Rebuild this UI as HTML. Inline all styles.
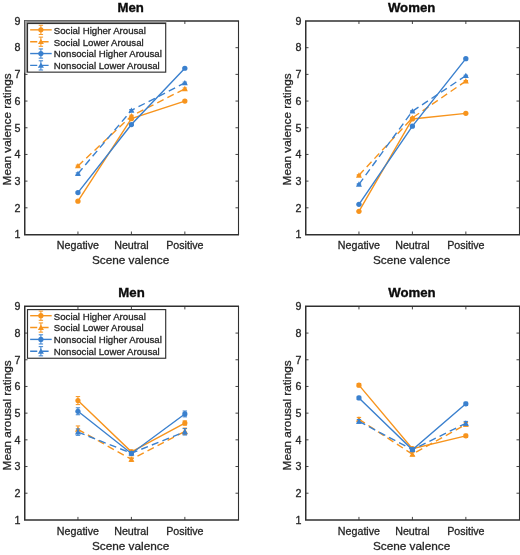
<!DOCTYPE html>
<html lang="en">
<head>
<meta charset="utf-8">
<title>Mean valence and arousal ratings</title>
<style>
html,body{margin:0;padding:0;background:#fff;}
svg{display:block;}
text{font-family:"Liberation Sans",Arial,Helvetica,sans-serif;fill:#262626;stroke:#262626;stroke-width:0.3px;}
</style>
</head>
<body>
<svg width="520" height="555" viewBox="0 0 520 555">
<rect width="520" height="555" fill="#fff"/>
<g>
<polyline points="77.95,201.14 131.4,118.68 184.85,101.06" fill="none" stroke="#F7941D" stroke-width="1.4"/>
<path d="M77.95 200.34V201.94M75.75 200.34H80.15M75.75 201.94H80.15" stroke="#F7941D" stroke-width="1" fill="none"/>
<circle cx="77.95" cy="201.14" r="2.6" fill="#F7941D"/>
<path d="M131.4 117.88V119.48M129.2 117.88H133.6M129.2 119.48H133.6" stroke="#F7941D" stroke-width="1" fill="none"/>
<circle cx="131.4" cy="118.68" r="2.6" fill="#F7941D"/>
<path d="M184.85 100.26V101.86M182.65 100.26H187.05M182.65 101.86H187.05" stroke="#F7941D" stroke-width="1" fill="none"/>
<circle cx="184.85" cy="101.06" r="2.6" fill="#F7941D"/>
<polyline points="77.95,165.91 131.4,116.01 184.85,88.79" fill="none" stroke="#F7941D" stroke-width="1.4" stroke-dasharray="7.1 4.25"/>
<path d="M77.95 165.11V166.71M75.75 165.11H80.15M75.75 166.71H80.15" stroke="#F7941D" stroke-width="1" fill="none"/>
<polygon points="77.95,162.91 74.95,168.31 80.95,168.31" fill="#F7941D"/>
<path d="M131.4 115.21V116.81M129.2 115.21H133.6M129.2 116.81H133.6" stroke="#F7941D" stroke-width="1" fill="none"/>
<polygon points="131.4,113.01 128.4,118.41 134.4,118.41" fill="#F7941D"/>
<path d="M184.85 87.99V89.59M182.65 87.99H187.05M182.65 89.59H187.05" stroke="#F7941D" stroke-width="1" fill="none"/>
<polygon points="184.85,85.79 181.85,91.19 187.85,91.19" fill="#F7941D"/>
<polyline points="77.95,192.6 131.4,124.55 184.85,68.24" fill="none" stroke="#3A80CE" stroke-width="1.4"/>
<path d="M77.95 191.8V193.4M75.75 191.8H80.15M75.75 193.4H80.15" stroke="#3A80CE" stroke-width="1" fill="none"/>
<circle cx="77.95" cy="192.6" r="2.6" fill="#3A80CE"/>
<path d="M131.4 123.75V125.35M129.2 123.75H133.6M129.2 125.35H133.6" stroke="#3A80CE" stroke-width="1" fill="none"/>
<circle cx="131.4" cy="124.55" r="2.6" fill="#3A80CE"/>
<path d="M184.85 67.44V69.04M182.65 67.44H187.05M182.65 69.04H187.05" stroke="#3A80CE" stroke-width="1" fill="none"/>
<circle cx="184.85" cy="68.24" r="2.6" fill="#3A80CE"/>
<polyline points="77.95,173.65 131.4,110.4 184.85,82.92" fill="none" stroke="#3A80CE" stroke-width="1.4" stroke-dasharray="7.1 4.25"/>
<path d="M77.95 172.85V174.45M75.75 172.85H80.15M75.75 174.45H80.15" stroke="#3A80CE" stroke-width="1" fill="none"/>
<polygon points="77.95,170.65 74.95,176.05 80.95,176.05" fill="#3A80CE"/>
<path d="M131.4 109.6V111.2M129.2 109.6H133.6M129.2 111.2H133.6" stroke="#3A80CE" stroke-width="1" fill="none"/>
<polygon points="131.4,107.4 128.4,112.8 134.4,112.8" fill="#3A80CE"/>
<path d="M184.85 82.11V83.72M182.65 82.11H187.05M182.65 83.72H187.05" stroke="#3A80CE" stroke-width="1" fill="none"/>
<polygon points="184.85,79.92 181.85,85.32 187.85,85.32" fill="#3A80CE"/>
<path d="M24.5 207.81h3M238.5 207.81h-3M24.5 181.12h3M238.5 181.12h-3M24.5 154.44h3M238.5 154.44h-3M24.5 127.75h3M238.5 127.75h-3M24.5 101.06h3M238.5 101.06h-3M24.5 74.38h3M238.5 74.38h-3M24.5 47.69h3M238.5 47.69h-3M77.95 234.5v-3M77.95 21v3M131.4 234.5v-3M131.4 21v3M184.85 234.5v-3M184.85 21v3" stroke="#303030" stroke-width="0.9" fill="none"/>
<path d="M24 21H239.05M24 234.75H239.05" stroke="#303030" stroke-width="1.5" fill="none"/>
<path d="M24.75 21V234.75" stroke="#303030" stroke-width="1.5" fill="none"/>
<path d="M238.5 21V234.75" stroke="#303030" stroke-width="1.1" fill="none"/>
<rect x="24" y="20" width="142.3" height="1" fill="#666"/>
<rect x="24" y="21" width="142.3" height="2" fill="#8c8c8c"/>
<rect x="24" y="20" width="1" height="52.75" fill="#555"/>
<rect x="25" y="21" width="2" height="51.75" fill="#a0a0a0"/>
<rect x="27.5" y="23.5" width="138.2" height="48.65" fill="#fff" stroke="#303030" stroke-width="1.15"/>
<path d="M30.15 29.85H51.7" stroke="#F7941D" stroke-width="1.4" fill="none"/>
<path d="M40.9 25.25V34.45M38.7 25.25H43.1M38.7 34.45H43.1" stroke="#F7941D" stroke-width="1" fill="none"/>
<circle cx="40.9" cy="29.85" r="2.6" fill="#F7941D"/>
<text x="53.8" y="33.7" font-size="9.65">Social Higher Arousal</text>
<path d="M30.15 41.7H51.7" stroke="#F7941D" stroke-width="1.4" stroke-dasharray="7.1 4.25" fill="none"/>
<path d="M40.9 37.1V46.3M38.7 37.1H43.1M38.7 46.3H43.1" stroke="#F7941D" stroke-width="1" fill="none"/>
<polygon points="40.9,38.7 37.9,44.1 43.9,44.1" fill="#F7941D"/>
<text x="53.8" y="45.55" font-size="9.65">Social Lower Arousal</text>
<path d="M30.15 53.55H51.7" stroke="#3A80CE" stroke-width="1.4" fill="none"/>
<path d="M40.9 48.95V58.15M38.7 48.95H43.1M38.7 58.15H43.1" stroke="#3A80CE" stroke-width="1" fill="none"/>
<circle cx="40.9" cy="53.55" r="2.6" fill="#3A80CE"/>
<text x="53.8" y="57.4" font-size="9.65">Nonsocial Higher Arousal</text>
<path d="M30.15 65.4H51.7" stroke="#3A80CE" stroke-width="1.4" stroke-dasharray="7.1 4.25" fill="none"/>
<path d="M40.9 60.8V70M38.7 60.8H43.1M38.7 70H43.1" stroke="#3A80CE" stroke-width="1" fill="none"/>
<polygon points="40.9,62.4 37.9,67.8 43.9,67.8" fill="#3A80CE"/>
<text x="53.8" y="69.25" font-size="9.65">Nonsocial Lower Arousal</text>
<text x="20.5" y="238.25" font-size="10.7" text-anchor="end">1</text>
<text x="20.5" y="211.56" font-size="10.7" text-anchor="end">2</text>
<text x="20.5" y="184.88" font-size="10.7" text-anchor="end">3</text>
<text x="20.5" y="158.19" font-size="10.7" text-anchor="end">4</text>
<text x="20.5" y="131.5" font-size="10.7" text-anchor="end">5</text>
<text x="20.5" y="104.81" font-size="10.7" text-anchor="end">6</text>
<text x="20.5" y="78.12" font-size="10.7" text-anchor="end">7</text>
<text x="20.5" y="51.44" font-size="10.7" text-anchor="end">8</text>
<text x="20.5" y="24.75" font-size="10.7" text-anchor="end">9</text>
<text x="77.95" y="248.8" font-size="10.7" text-anchor="middle">Negative</text>
<text x="131.4" y="248.8" font-size="10.7" text-anchor="middle">Neutral</text>
<text x="184.85" y="248.8" font-size="10.7" text-anchor="middle">Positive</text>
<text x="130.6" y="264" font-size="11.8" text-anchor="middle">Scene valence</text>
<text transform="translate(10.7 129.35) rotate(-90)" font-size="11.8" text-anchor="middle">Mean valence ratings</text>
<text x="130.7" y="11.5" font-size="13.2" font-weight="bold" style="fill:#0c0c0c;stroke:#0c0c0c;stroke-width:0.35px" text-anchor="middle">Men</text>
</g>
<g>
<polyline points="358.95,211.28 412.4,118.94 465.85,113.34" fill="none" stroke="#F7941D" stroke-width="1.4"/>
<path d="M358.95 210.75V211.82M356.75 210.75H361.15M356.75 211.82H361.15" stroke="#F7941D" stroke-width="1" fill="none"/>
<circle cx="358.95" cy="211.28" r="2.6" fill="#F7941D"/>
<path d="M412.4 118.41V119.48M410.2 118.41H414.6M410.2 119.48H414.6" stroke="#F7941D" stroke-width="1" fill="none"/>
<circle cx="412.4" cy="118.94" r="2.6" fill="#F7941D"/>
<path d="M465.85 112.81V113.87M463.65 112.81H468.05M463.65 113.87H468.05" stroke="#F7941D" stroke-width="1" fill="none"/>
<circle cx="465.85" cy="113.34" r="2.6" fill="#F7941D"/>
<polyline points="358.95,175.25 412.4,117.88 465.85,81.05" fill="none" stroke="#F7941D" stroke-width="1.4" stroke-dasharray="7.1 4.25"/>
<path d="M358.95 174.72V175.79M356.75 174.72H361.15M356.75 175.79H361.15" stroke="#F7941D" stroke-width="1" fill="none"/>
<polygon points="358.95,172.25 355.95,177.65 361.95,177.65" fill="#F7941D"/>
<path d="M412.4 117.34V118.41M410.2 117.34H414.6M410.2 118.41H414.6" stroke="#F7941D" stroke-width="1" fill="none"/>
<polygon points="412.4,114.88 409.4,120.28 415.4,120.28" fill="#F7941D"/>
<path d="M465.85 80.51V81.58M463.65 80.51H468.05M463.65 81.58H468.05" stroke="#F7941D" stroke-width="1" fill="none"/>
<polygon points="465.85,78.05 462.85,83.45 468.85,83.45" fill="#F7941D"/>
<polyline points="358.95,204.34 412.4,126.15 465.85,58.63" fill="none" stroke="#3A80CE" stroke-width="1.4"/>
<path d="M358.95 203.81V204.88M356.75 203.81H361.15M356.75 204.88H361.15" stroke="#3A80CE" stroke-width="1" fill="none"/>
<circle cx="358.95" cy="204.34" r="2.6" fill="#3A80CE"/>
<path d="M412.4 125.62V126.68M410.2 125.62H414.6M410.2 126.68H414.6" stroke="#3A80CE" stroke-width="1" fill="none"/>
<circle cx="412.4" cy="126.15" r="2.6" fill="#3A80CE"/>
<path d="M465.85 58.1V59.16M463.65 58.1H468.05M463.65 59.16H468.05" stroke="#3A80CE" stroke-width="1" fill="none"/>
<circle cx="465.85" cy="58.63" r="2.6" fill="#3A80CE"/>
<polyline points="358.95,184.33 412.4,111.2 465.85,75.71" fill="none" stroke="#3A80CE" stroke-width="1.4" stroke-dasharray="7.1 4.25"/>
<path d="M358.95 183.79V184.86M356.75 183.79H361.15M356.75 184.86H361.15" stroke="#3A80CE" stroke-width="1" fill="none"/>
<polygon points="358.95,181.33 355.95,186.73 361.95,186.73" fill="#3A80CE"/>
<path d="M412.4 110.67V111.74M410.2 110.67H414.6M410.2 111.74H414.6" stroke="#3A80CE" stroke-width="1" fill="none"/>
<polygon points="412.4,108.2 409.4,113.6 415.4,113.6" fill="#3A80CE"/>
<path d="M465.85 75.18V76.24M463.65 75.18H468.05M463.65 76.24H468.05" stroke="#3A80CE" stroke-width="1" fill="none"/>
<polygon points="465.85,72.71 462.85,78.11 468.85,78.11" fill="#3A80CE"/>
<path d="M305.5 207.81h3M519.5 207.81h-3M305.5 181.12h3M519.5 181.12h-3M305.5 154.44h3M519.5 154.44h-3M305.5 127.75h3M519.5 127.75h-3M305.5 101.06h3M519.5 101.06h-3M305.5 74.38h3M519.5 74.38h-3M305.5 47.69h3M519.5 47.69h-3M358.95 234.5v-3M358.95 21v3M412.4 234.5v-3M412.4 21v3M465.85 234.5v-3M465.85 21v3" stroke="#303030" stroke-width="0.9" fill="none"/>
<path d="M305 21H520.05M305 234.75H520.05" stroke="#303030" stroke-width="1.5" fill="none"/>
<path d="M305.75 21V234.75" stroke="#303030" stroke-width="1.5" fill="none"/>
<path d="M519.5 21V234.75" stroke="#303030" stroke-width="1.1" fill="none"/>
<text x="301.5" y="238.25" font-size="10.7" text-anchor="end">1</text>
<text x="301.5" y="211.56" font-size="10.7" text-anchor="end">2</text>
<text x="301.5" y="184.88" font-size="10.7" text-anchor="end">3</text>
<text x="301.5" y="158.19" font-size="10.7" text-anchor="end">4</text>
<text x="301.5" y="131.5" font-size="10.7" text-anchor="end">5</text>
<text x="301.5" y="104.81" font-size="10.7" text-anchor="end">6</text>
<text x="301.5" y="78.12" font-size="10.7" text-anchor="end">7</text>
<text x="301.5" y="51.44" font-size="10.7" text-anchor="end">8</text>
<text x="301.5" y="24.75" font-size="10.7" text-anchor="end">9</text>
<text x="358.95" y="248.8" font-size="10.7" text-anchor="middle">Negative</text>
<text x="412.4" y="248.8" font-size="10.7" text-anchor="middle">Neutral</text>
<text x="465.85" y="248.8" font-size="10.7" text-anchor="middle">Positive</text>
<text x="411.6" y="264" font-size="11.8" text-anchor="middle">Scene valence</text>
<text transform="translate(291.3 129.35) rotate(-90)" font-size="11.8" text-anchor="middle">Mean valence ratings</text>
<text x="411.6" y="11.9" font-size="13.2" font-weight="bold" style="fill:#0c0c0c;stroke:#0c0c0c;stroke-width:0.35px" text-anchor="middle">Women</text>
</g>
<g>
<polyline points="77.95,400.61 131.4,451.85 184.85,423.02" fill="none" stroke="#F7941D" stroke-width="1.4"/>
<path d="M77.95 396.6V404.61M75.75 396.6H80.15M75.75 404.61H80.15" stroke="#F7941D" stroke-width="1" fill="none"/>
<circle cx="77.95" cy="400.61" r="2.6" fill="#F7941D"/>
<path d="M131.4 449.98V453.71M129.2 449.98H133.6M129.2 453.71H133.6" stroke="#F7941D" stroke-width="1" fill="none"/>
<circle cx="131.4" cy="451.85" r="2.6" fill="#F7941D"/>
<path d="M184.85 420.89V425.16M182.65 420.89H187.05M182.65 425.16H187.05" stroke="#F7941D" stroke-width="1" fill="none"/>
<circle cx="184.85" cy="423.02" r="2.6" fill="#F7941D"/>
<polyline points="77.95,429.43 131.4,459.32 184.85,431.3" fill="none" stroke="#F7941D" stroke-width="1.4" stroke-dasharray="7.1 4.25"/>
<path d="M77.95 425.96V432.9M75.75 425.96H80.15M75.75 432.9H80.15" stroke="#F7941D" stroke-width="1" fill="none"/>
<polygon points="77.95,426.43 74.95,431.83 80.95,431.83" fill="#F7941D"/>
<path d="M131.4 457.18V461.45M129.2 457.18H133.6M129.2 461.45H133.6" stroke="#F7941D" stroke-width="1" fill="none"/>
<polygon points="131.4,456.32 128.4,461.72 134.4,461.72" fill="#F7941D"/>
<path d="M184.85 428.09V434.5M182.65 428.09H187.05M182.65 434.5H187.05" stroke="#F7941D" stroke-width="1" fill="none"/>
<polygon points="184.85,428.3 181.85,433.7 187.85,433.7" fill="#F7941D"/>
<polyline points="77.95,411.28 131.4,453.45 184.85,413.95" fill="none" stroke="#3A80CE" stroke-width="1.4"/>
<path d="M77.95 407.81V414.75M75.75 407.81H80.15M75.75 414.75H80.15" stroke="#3A80CE" stroke-width="1" fill="none"/>
<circle cx="77.95" cy="411.28" r="2.6" fill="#3A80CE"/>
<path d="M131.4 451.85V455.05M129.2 451.85H133.6M129.2 455.05H133.6" stroke="#3A80CE" stroke-width="1" fill="none"/>
<circle cx="131.4" cy="453.45" r="2.6" fill="#3A80CE"/>
<path d="M184.85 411.01V416.89M182.65 411.01H187.05M182.65 416.89H187.05" stroke="#3A80CE" stroke-width="1" fill="none"/>
<circle cx="184.85" cy="413.95" r="2.6" fill="#3A80CE"/>
<polyline points="77.95,432.1 131.4,453.18 184.85,431.83" fill="none" stroke="#3A80CE" stroke-width="1.4" stroke-dasharray="7.1 4.25"/>
<path d="M77.95 428.9V435.3M75.75 428.9H80.15M75.75 435.3H80.15" stroke="#3A80CE" stroke-width="1" fill="none"/>
<polygon points="77.95,429.1 74.95,434.5 80.95,434.5" fill="#3A80CE"/>
<path d="M131.4 451.58V454.78M129.2 451.58H133.6M129.2 454.78H133.6" stroke="#3A80CE" stroke-width="1" fill="none"/>
<polygon points="131.4,450.18 128.4,455.58 134.4,455.58" fill="#3A80CE"/>
<path d="M184.85 428.63V435.03M182.65 428.63H187.05M182.65 435.03H187.05" stroke="#3A80CE" stroke-width="1" fill="none"/>
<polygon points="184.85,428.83 181.85,434.23 187.85,434.23" fill="#3A80CE"/>
<path d="M24.5 493.21h3M238.5 493.21h-3M24.5 466.52h3M238.5 466.52h-3M24.5 439.84h3M238.5 439.84h-3M24.5 413.15h3M238.5 413.15h-3M24.5 386.46h3M238.5 386.46h-3M24.5 359.77h3M238.5 359.77h-3M24.5 333.09h3M238.5 333.09h-3M77.95 519.9v-3M77.95 306.4v3M131.4 519.9v-3M131.4 306.4v3M184.85 519.9v-3M184.85 306.4v3" stroke="#303030" stroke-width="0.9" fill="none"/>
<path d="M24 306.25H239.05M24 520H239.05" stroke="#303030" stroke-width="1.5" fill="none"/>
<path d="M24.75 306.25V520" stroke="#303030" stroke-width="1.5" fill="none"/>
<path d="M238.5 306.25V520" stroke="#303030" stroke-width="1.1" fill="none"/>
<rect x="27.5" y="309.6" width="138.2" height="48.65" fill="#fff" stroke="#303030" stroke-width="1.15"/>
<path d="M30.15 315.7H51.7" stroke="#F7941D" stroke-width="1.4" fill="none"/>
<path d="M40.9 311.1V320.3M38.7 311.1H43.1M38.7 320.3H43.1" stroke="#F7941D" stroke-width="1" fill="none"/>
<circle cx="40.9" cy="315.7" r="2.6" fill="#F7941D"/>
<text x="53.8" y="319.55" font-size="9.65">Social Higher Arousal</text>
<path d="M30.15 327.55H51.7" stroke="#F7941D" stroke-width="1.4" stroke-dasharray="7.1 4.25" fill="none"/>
<path d="M40.9 322.95V332.15M38.7 322.95H43.1M38.7 332.15H43.1" stroke="#F7941D" stroke-width="1" fill="none"/>
<polygon points="40.9,324.55 37.9,329.95 43.9,329.95" fill="#F7941D"/>
<text x="53.8" y="331.4" font-size="9.65">Social Lower Arousal</text>
<path d="M30.15 339.4H51.7" stroke="#3A80CE" stroke-width="1.4" fill="none"/>
<path d="M40.9 334.8V344M38.7 334.8H43.1M38.7 344H43.1" stroke="#3A80CE" stroke-width="1" fill="none"/>
<circle cx="40.9" cy="339.4" r="2.6" fill="#3A80CE"/>
<text x="53.8" y="343.25" font-size="9.65">Nonsocial Higher Arousal</text>
<path d="M30.15 351.25H51.7" stroke="#3A80CE" stroke-width="1.4" stroke-dasharray="7.1 4.25" fill="none"/>
<path d="M40.9 346.65V355.85M38.7 346.65H43.1M38.7 355.85H43.1" stroke="#3A80CE" stroke-width="1" fill="none"/>
<polygon points="40.9,348.25 37.9,353.65 43.9,353.65" fill="#3A80CE"/>
<text x="53.8" y="355.1" font-size="9.65">Nonsocial Lower Arousal</text>
<text x="20.5" y="523.65" font-size="10.7" text-anchor="end">1</text>
<text x="20.5" y="496.96" font-size="10.7" text-anchor="end">2</text>
<text x="20.5" y="470.27" font-size="10.7" text-anchor="end">3</text>
<text x="20.5" y="443.59" font-size="10.7" text-anchor="end">4</text>
<text x="20.5" y="416.9" font-size="10.7" text-anchor="end">5</text>
<text x="20.5" y="390.21" font-size="10.7" text-anchor="end">6</text>
<text x="20.5" y="363.52" font-size="10.7" text-anchor="end">7</text>
<text x="20.5" y="336.84" font-size="10.7" text-anchor="end">8</text>
<text x="20.5" y="310.15" font-size="10.7" text-anchor="end">9</text>
<text x="77.95" y="534.6" font-size="10.7" text-anchor="middle">Negative</text>
<text x="131.4" y="534.6" font-size="10.7" text-anchor="middle">Neutral</text>
<text x="184.85" y="534.6" font-size="10.7" text-anchor="middle">Positive</text>
<text x="130.6" y="549.8" font-size="11.8" text-anchor="middle">Scene valence</text>
<text transform="translate(10.7 415.35) rotate(-90)" font-size="11.8" text-anchor="middle">Mean arousal ratings</text>
<text x="131.5" y="297.3" font-size="13.2" font-weight="bold" style="fill:#0c0c0c;stroke:#0c0c0c;stroke-width:0.35px" text-anchor="middle">Men</text>
</g>
<g>
<polyline points="358.95,385.13 412.4,448.64 465.85,435.83" fill="none" stroke="#F7941D" stroke-width="1.4"/>
<path d="M358.95 383.53V386.73M356.75 383.53H361.15M356.75 386.73H361.15" stroke="#F7941D" stroke-width="1" fill="none"/>
<circle cx="358.95" cy="385.13" r="2.6" fill="#F7941D"/>
<path d="M412.4 447.31V449.98M410.2 447.31H414.6M410.2 449.98H414.6" stroke="#F7941D" stroke-width="1" fill="none"/>
<circle cx="412.4" cy="448.64" r="2.6" fill="#F7941D"/>
<path d="M465.85 434.23V437.44M463.65 434.23H468.05M463.65 437.44H468.05" stroke="#F7941D" stroke-width="1" fill="none"/>
<circle cx="465.85" cy="435.83" r="2.6" fill="#F7941D"/>
<polyline points="358.95,419.29 412.4,454.25 465.85,424.36" fill="none" stroke="#F7941D" stroke-width="1.4" stroke-dasharray="7.1 4.25"/>
<path d="M358.95 417.42V421.16M356.75 417.42H361.15M356.75 421.16H361.15" stroke="#F7941D" stroke-width="1" fill="none"/>
<polygon points="358.95,416.29 355.95,421.69 361.95,421.69" fill="#F7941D"/>
<path d="M412.4 452.65V455.85M410.2 452.65H414.6M410.2 455.85H414.6" stroke="#F7941D" stroke-width="1" fill="none"/>
<polygon points="412.4,451.25 409.4,456.65 415.4,456.65" fill="#F7941D"/>
<path d="M465.85 422.49V426.23M463.65 422.49H468.05M463.65 426.23H468.05" stroke="#F7941D" stroke-width="1" fill="none"/>
<polygon points="465.85,421.36 462.85,426.76 468.85,426.76" fill="#F7941D"/>
<polyline points="358.95,397.94 412.4,449.71 465.85,403.81" fill="none" stroke="#3A80CE" stroke-width="1.4"/>
<path d="M358.95 396.34V399.54M356.75 396.34H361.15M356.75 399.54H361.15" stroke="#3A80CE" stroke-width="1" fill="none"/>
<circle cx="358.95" cy="397.94" r="2.6" fill="#3A80CE"/>
<path d="M412.4 448.38V451.05M410.2 448.38H414.6M410.2 451.05H414.6" stroke="#3A80CE" stroke-width="1" fill="none"/>
<circle cx="412.4" cy="449.71" r="2.6" fill="#3A80CE"/>
<path d="M465.85 402.21V405.41M463.65 402.21H468.05M463.65 405.41H468.05" stroke="#3A80CE" stroke-width="1" fill="none"/>
<circle cx="465.85" cy="403.81" r="2.6" fill="#3A80CE"/>
<polyline points="358.95,421.42 412.4,449.71 465.85,423.29" fill="none" stroke="#3A80CE" stroke-width="1.4" stroke-dasharray="7.1 4.25"/>
<path d="M358.95 419.55V423.29M356.75 419.55H361.15M356.75 423.29H361.15" stroke="#3A80CE" stroke-width="1" fill="none"/>
<polygon points="358.95,418.42 355.95,423.82 361.95,423.82" fill="#3A80CE"/>
<path d="M412.4 448.38V451.05M410.2 448.38H414.6M410.2 451.05H414.6" stroke="#3A80CE" stroke-width="1" fill="none"/>
<polygon points="412.4,446.71 409.4,452.11 415.4,452.11" fill="#3A80CE"/>
<path d="M465.85 421.42V425.16M463.65 421.42H468.05M463.65 425.16H468.05" stroke="#3A80CE" stroke-width="1" fill="none"/>
<polygon points="465.85,420.29 462.85,425.69 468.85,425.69" fill="#3A80CE"/>
<path d="M305.5 493.21h3M519.5 493.21h-3M305.5 466.52h3M519.5 466.52h-3M305.5 439.84h3M519.5 439.84h-3M305.5 413.15h3M519.5 413.15h-3M305.5 386.46h3M519.5 386.46h-3M305.5 359.77h3M519.5 359.77h-3M305.5 333.09h3M519.5 333.09h-3M358.95 519.9v-3M358.95 306.4v3M412.4 519.9v-3M412.4 306.4v3M465.85 519.9v-3M465.85 306.4v3" stroke="#303030" stroke-width="0.9" fill="none"/>
<path d="M305 306.25H520.05M305 520H520.05" stroke="#303030" stroke-width="1.5" fill="none"/>
<path d="M305.75 306.25V520" stroke="#303030" stroke-width="1.5" fill="none"/>
<path d="M519.5 306.25V520" stroke="#303030" stroke-width="1.1" fill="none"/>
<text x="301.5" y="523.65" font-size="10.7" text-anchor="end">1</text>
<text x="301.5" y="496.96" font-size="10.7" text-anchor="end">2</text>
<text x="301.5" y="470.27" font-size="10.7" text-anchor="end">3</text>
<text x="301.5" y="443.59" font-size="10.7" text-anchor="end">4</text>
<text x="301.5" y="416.9" font-size="10.7" text-anchor="end">5</text>
<text x="301.5" y="390.21" font-size="10.7" text-anchor="end">6</text>
<text x="301.5" y="363.52" font-size="10.7" text-anchor="end">7</text>
<text x="301.5" y="336.84" font-size="10.7" text-anchor="end">8</text>
<text x="301.5" y="310.15" font-size="10.7" text-anchor="end">9</text>
<text x="358.95" y="534.6" font-size="10.7" text-anchor="middle">Negative</text>
<text x="412.4" y="534.6" font-size="10.7" text-anchor="middle">Neutral</text>
<text x="465.85" y="534.6" font-size="10.7" text-anchor="middle">Positive</text>
<text x="411.6" y="549.8" font-size="11.8" text-anchor="middle">Scene valence</text>
<text transform="translate(291.3 415.35) rotate(-90)" font-size="11.8" text-anchor="middle">Mean arousal ratings</text>
<text x="412" y="297.3" font-size="13.2" font-weight="bold" style="fill:#0c0c0c;stroke:#0c0c0c;stroke-width:0.35px" text-anchor="middle">Women</text>
</g>
</svg>
</body>
</html>
